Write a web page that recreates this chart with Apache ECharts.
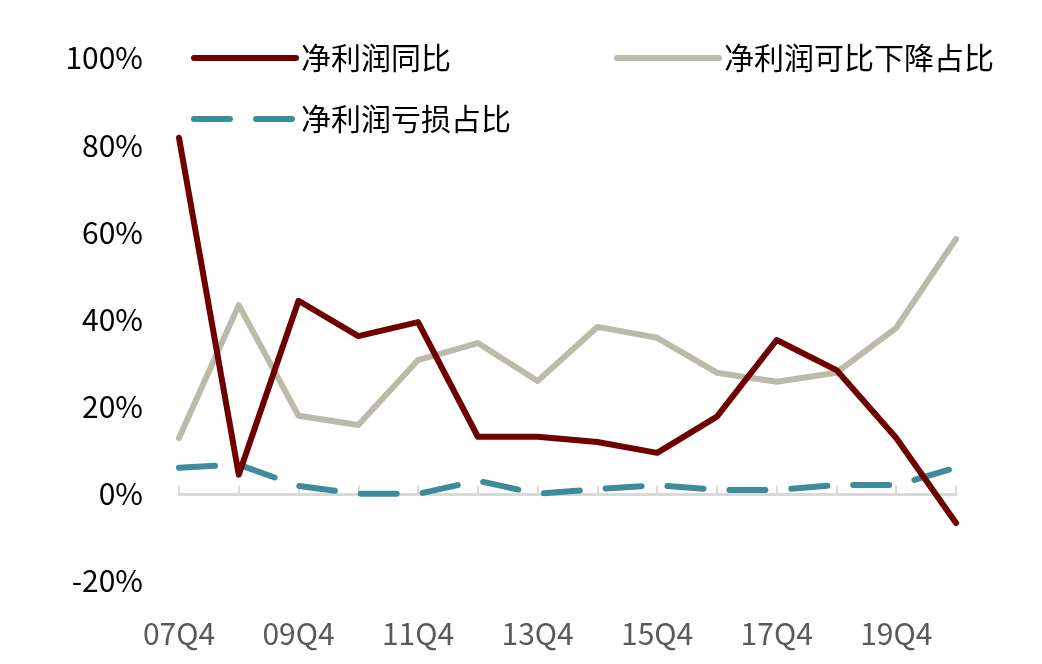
<!DOCTYPE html>
<html><head><meta charset="utf-8">
<script src="https://cdn.jsdelivr.net/npm/echarts@6/dist/echarts.min.js"></script>
<style>html,body{margin:0;padding:0;background:#fff}#c{width:1042px;height:664px}</style>
</head><body><div id="c"></div>
<script>
const categories = ['07Q4','08Q4','09Q4','10Q4','11Q4','12Q4','13Q4','14Q4','15Q4','16Q4','17Q4','18Q4','19Q4','20Q4'];
const netProfitYoY = [81.7, 4.4, 44.3, 36.2, 39.4, 13.1, 13.1, 11.9, 9.4, 17.7, 35.3, 28.4, 12.8, -6.7];
const declineShare = [12.8, 43.3, 17.9, 15.8, 30.7, 34.6, 25.9, 38.3, 35.8, 27.8, 25.7, 27.8, 38.1, 58.5];
const lossShare = [6.0, 6.7, 1.8, 0, 0, 3.0, 0, 1.1, 2.0, 0.9, 0.9, 2.0, 2.0, 6.0];
const seriesNames = ['净利润同比', '净利润可比下降占比', '净利润亏损占比'];
const yTicks = {min: -20, max: 100, interval: 20};

const FONT = '"Noto Sans CJK SC", "Noto Sans", sans-serif';
const chart = echarts.init(document.getElementById('c'), null, {renderer: 'canvas'});
const legendBase = {
  orient: 'horizontal', itemWidth: 102, itemHeight: 14, itemGap: 10, padding: 0,
  itemStyle: {opacity: 0, borderWidth: 0},
  lineStyle: {width: 6, cap: 'round'},
  textStyle: {fontFamily: FONT, fontSize: 30, color: '#000', lineHeight: 30},
  selectedMode: false
};
chart.setOption({
  backgroundColor: '#fff',
  animation: false,
  textStyle: {fontFamily: FONT},
  legend: [
    Object.assign({}, legendBase, {left: 191, top: 43, data: [seriesNames[0]]}),
    Object.assign({}, legendBase, {left: 614, top: 43, data: [seriesNames[1]]}),
    Object.assign({}, legendBase, {left: 191, top: 104, data: [seriesNames[2]]})
  ],
  grid: {left: 179, right: 86, top: 58, bottom: 83},
  xAxis: [{
    type: 'category', data: categories, boundaryGap: false, position: 'bottom',
    axisLine: {show: false, onZero: false}, axisTick: {show: false},
    axisLabel: {interval: 1, margin: 38, fontSize: 30, color: '#595959', fontFamily: FONT}
  }, {
    type: 'category', data: categories, boundaryGap: false, position: 'top',
    axisLine: {show: true, onZero: true, lineStyle: {color: '#D9D9D9', width: 3}},
    axisTick: {show: true, interval: 0, length: 8, lineStyle: {color: '#D9D9D9', width: 2}},
    axisLabel: {show: false}
  }],
  yAxis: {
    type: 'value', min: yTicks.min, max: yTicks.max, interval: yTicks.interval,
    axisLine: {show: false}, axisTick: {show: false}, splitLine: {show: false},
    axisLabel: {formatter: '{value}%', fontSize: 30, color: '#000', margin: 36, fontFamily: FONT}
  },
  series: [{
    name: seriesNames[0], type: 'line', data: netProfitYoY, symbol: 'none',
    lineStyle: {color: '#6E0000', width: 6, cap: 'round', join: 'round'}, itemStyle: {color: '#6E0000'}, z: 4
  }, {
    name: seriesNames[1], type: 'line', data: declineShare, symbol: 'none',
    lineStyle: {color: '#BCBAA9', width: 6, cap: 'round', join: 'round'}, itemStyle: {color: '#BCBAA9'}, z: 3
  }, {
    name: seriesNames[2], type: 'line', data: lossShare, symbol: 'none',
    lineStyle: {color: '#3C8C9C', width: 6, type: [36, 26], cap: 'round', join: 'round'}, itemStyle: {color: '#3C8C9C'}, z: 2
  }]
});
</script></body></html>
